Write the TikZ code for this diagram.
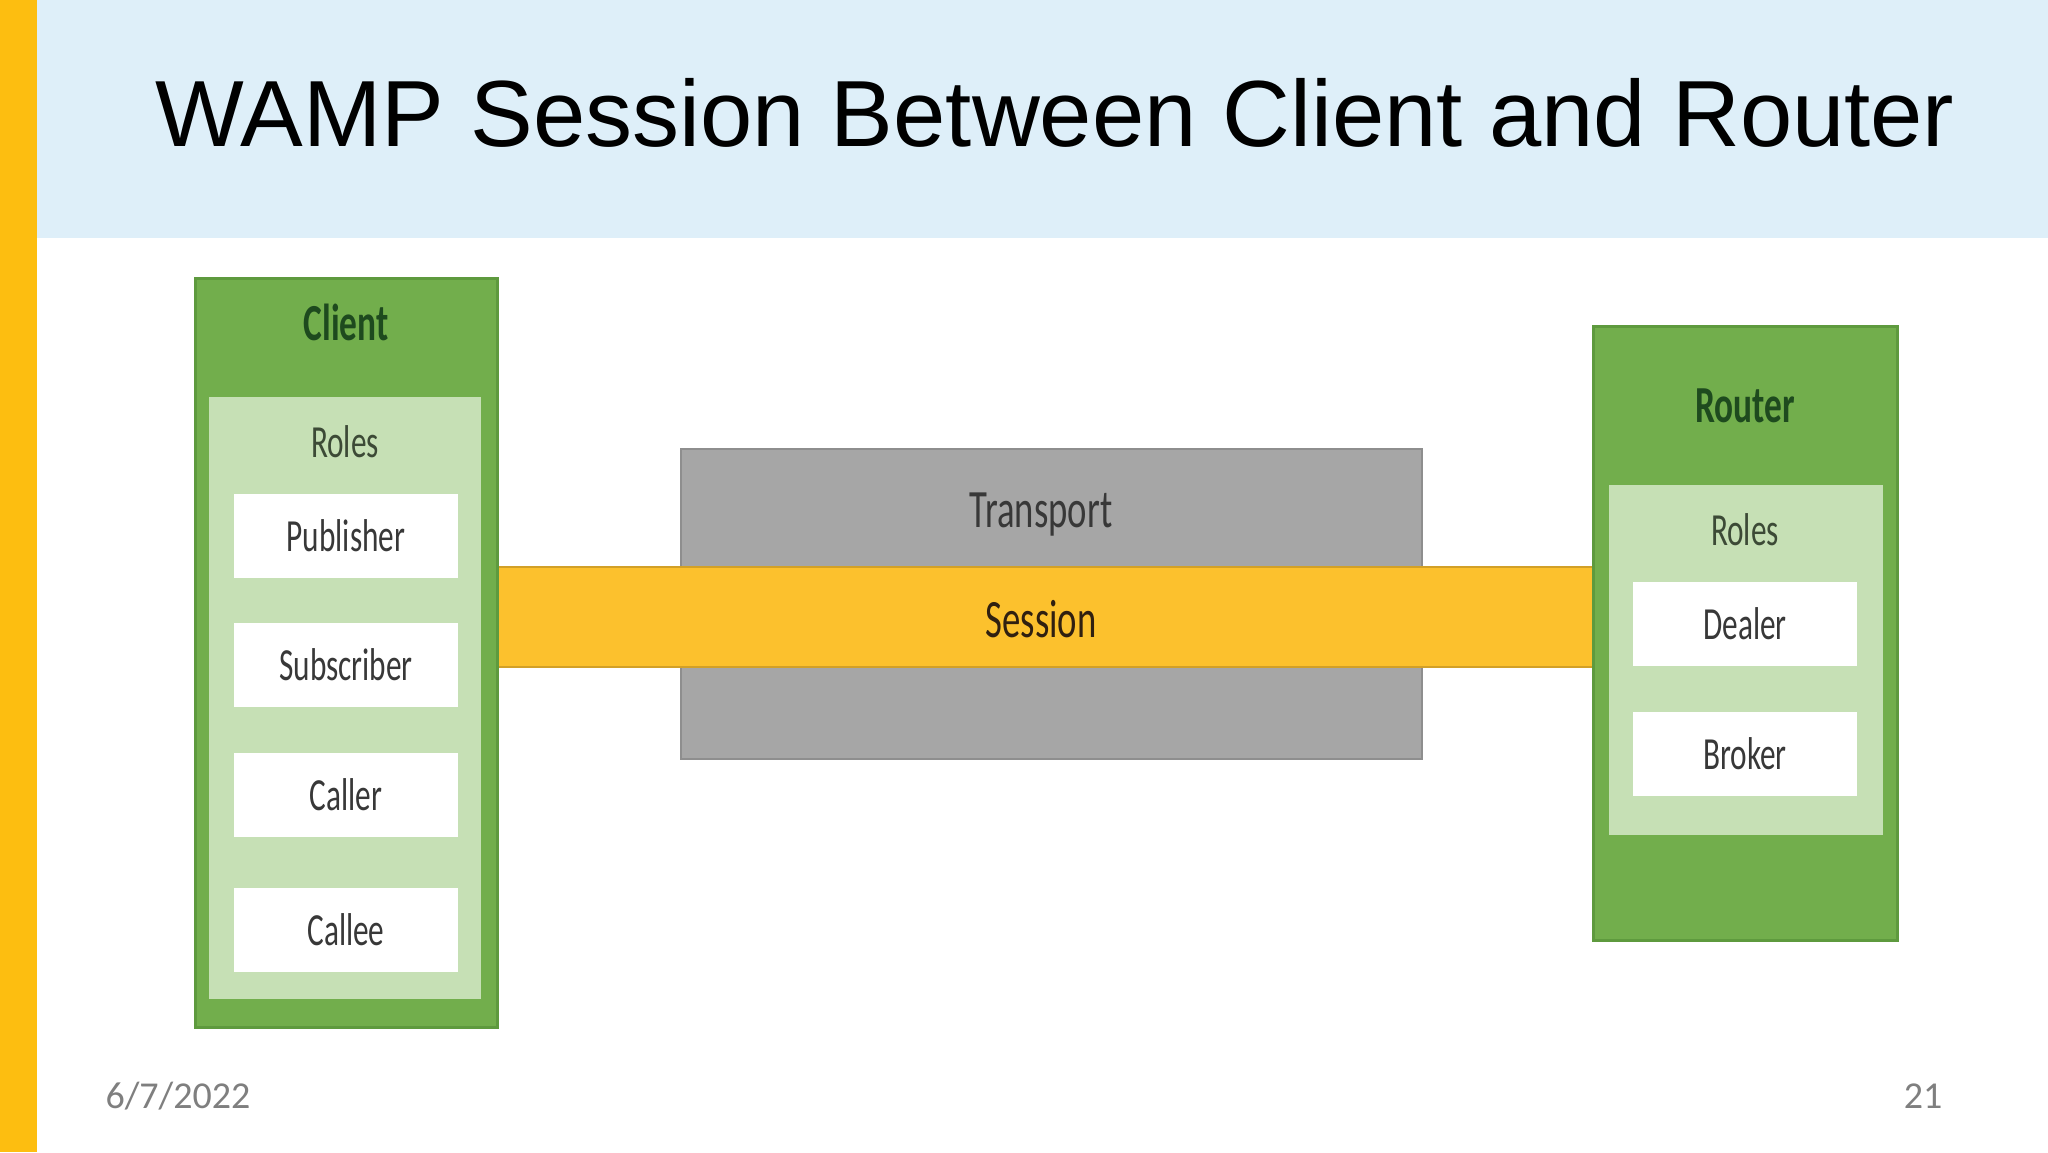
\documentclass[tikz,border=0pt]{standalone}
\usepackage{fontspec}
\setmainfont{Carlito}
\newfontfamily\slidefont{Liberation Sans}
\newfontfamily\boxfont[FakeStretch=0.68]{Carlito}
\newcommand\fsz[1]{\fontsize{#1}{#1}\selectfont}
\definecolor{stripyellow}{HTML}{FDBE10}
\definecolor{headerblue}{HTML}{DEEFF9}
\definecolor{appgreen}{HTML}{72AE4C}
\definecolor{appgreendark}{HTML}{5E9A3E}
\definecolor{rolegreen}{HTML}{C6E0B5}
\definecolor{transgray}{HTML}{A6A6A6}
\definecolor{transgraydark}{HTML}{8E8E8E}
\definecolor{sessyellow}{HTML}{FCC12D}
\definecolor{sessyellowdark}{HTML}{D2A027}
\definecolor{headgreen}{HTML}{1E4A1E}
\definecolor{rolestext}{HTML}{3C4A36}
\definecolor{rolegray}{HTML}{383838}
\definecolor{footgray}{HTML}{7F7F7F}
\begin{document}
\begin{tikzpicture}[x=1pt,y=-1pt,
  outerbox/.style={fill=appgreen,draw=appgreendark,line width=3pt,inner sep=0pt},
  rolesbox/.style={fill=rolegreen,inner sep=0pt},
  rolebox/.style={fill=white,inner sep=0pt,minimum width=224pt,minimum height=84pt,
    font=\boxfont\fsz{46},text=rolegray},
  headlabel/.style={anchor=base,font=\boxfont\bfseries\fsz{52},text=headgreen},
  roleslabel/.style={anchor=base,font=\boxfont\fsz{46},text=rolestext}]
\useasboundingbox (0,0) rectangle (2048,1152);
\fill[stripyellow] (0,0) rectangle (37,1152);
\fill[headerblue] (37,0) rectangle (2048,238);
\node[anchor=base,font=\slidefont\fsz{94}] (title) at (1055,146) {WAMP Session Between Client and Router};

\node[fill=transgray,draw=transgraydark,line width=2pt,minimum width=741pt,minimum height=310pt] (transport) at (1051.5,604) {};
\node[anchor=base,font=\boxfont\fsz{54},text=rolegray] (transportlabel) at (1041,527) {Transport};
\node[fill=sessyellow,draw=sessyellowdark,line width=2pt,inner sep=0pt,minimum width=1096pt,minimum height=100pt] (session) at (1045,617) {};
\node[anchor=base,font=\boxfont\fsz{54},text=black!75!brown] (sessionlabel) at (1041,637) {Session};

\node[outerbox,minimum width=302pt,minimum height=749pt] (client) at (346,652.5) {};
\node[rolesbox,minimum width=272pt,minimum height=602pt] (clientroles) at (345,698) {};
\node[headlabel] (clientlabel) at (346,340) {Client};
\node[roleslabel] (clientroleslabel) at (345,457) {Roles};
\node[rolebox] (publisher) at (346,535.5) {Publisher};
\node[rolebox] (subscriber) at (346,665) {Subscriber};
\node[rolebox] (caller) at (346,794.5) {Caller};
\node[rolebox] (callee) at (346,930) {Callee};

\node[outerbox,minimum width=304pt,minimum height=614pt] (router) at (1745,633) {};
\node[rolesbox,minimum width=274pt,minimum height=350pt] (routerroles) at (1746,660) {};
\node[headlabel] (routerlabel) at (1745,422) {Router};
\node[roleslabel] (routerroleslabel) at (1745,545) {Roles};
\node[rolebox] (dealer) at (1745,623.5) {Dealer};
\node[rolebox] (broker) at (1745,753.5) {Broker};

\node[anchor=base west,font=\fsz{38},text=footgray] (date) at (102,1108) {6/7/2022};
\node[anchor=base east,font=\fsz{38},text=footgray] (page) at (1946,1108) {21};
\end{tikzpicture}
\end{document}
